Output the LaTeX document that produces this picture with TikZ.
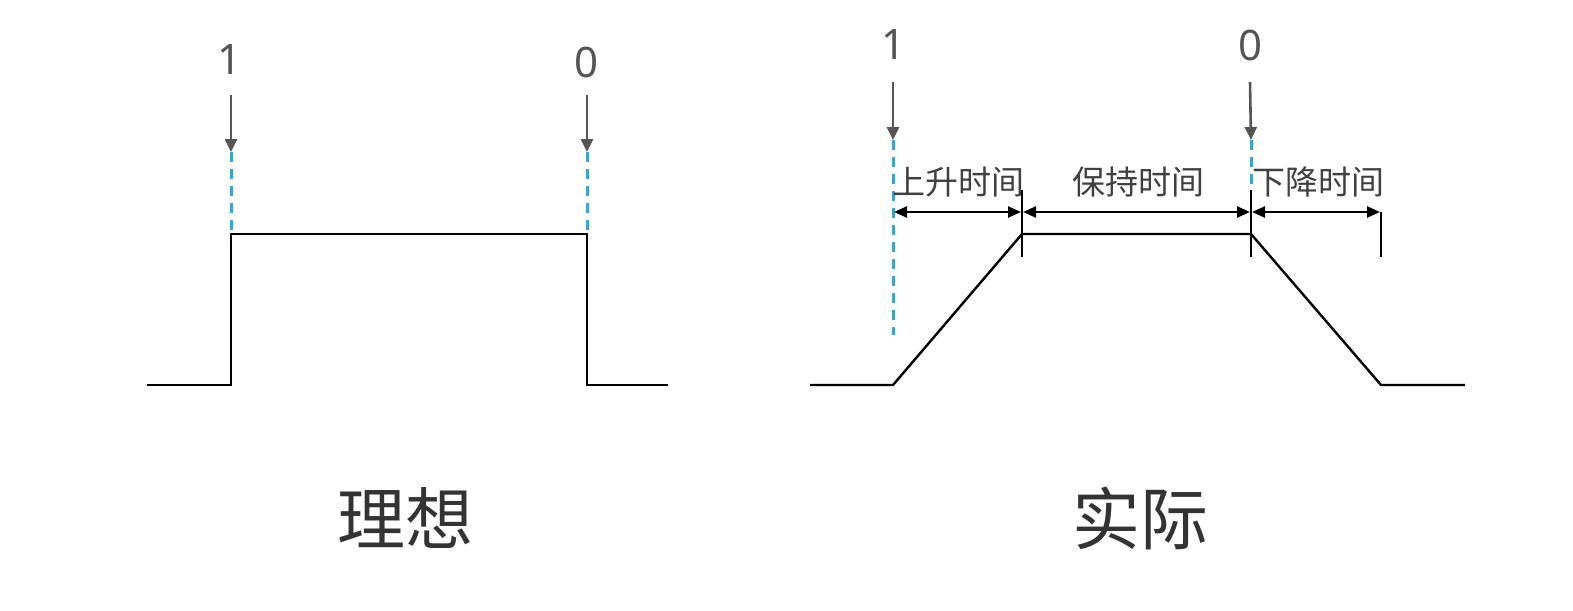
\documentclass[tikz,border=0pt]{standalone}
\usepackage{fontspec}
\setmainfont{Noto Sans}
\newfontfamily\cjk{Noto Sans CJK SC}
\usetikzlibrary{arrows.meta}
\definecolor{cblue}{HTML}{3BA3D8}
\definecolor{cgray}{HTML}{555555}
\tikzset{
 sig/.style={line width=2.4pt,black},
 blued/.style={cblue,line width=3pt,dash pattern=on 10pt off 7pt},
 gar/.style={cgray,line width=2.6pt,-{Triangle[length=13pt,width=12pt]}},
 dim/.style={black,line width=2.4pt,{Triangle[length=13pt,width=11pt]}-{Triangle[length=13pt,width=11pt]}},
 tick/.style={black,line width=2.4pt},
 lbl/.style={font=\fontsize{42}{42}\selectfont,text=cgray},
 small/.style={font=\cjk\fontsize{33}{33}\selectfont,text=black!75},
 big/.style={font=\cjk\fontsize{68}{68}\selectfont,text=black!80}
}
\begin{document}
\begin{tikzpicture}[x=1pt,y=-1pt]
\useasboundingbox (0,0) rectangle (1573,610);
% left ideal
\coordinate (a0) at (147,385); \coordinate (a1) at (231,385); \coordinate (a2) at (231,234);
\coordinate (a3) at (587,234); \coordinate (a4) at (587,385); \coordinate (a5) at (668,385);
\draw[sig] (a0)--(a1)--(a2)--(a3)--(a4)--(a5);
\coordinate (b1t) at (231,152); \coordinate (b2t) at (587,152);
\draw[blued] (b1t)--(a2); \draw[blued] (b2t)--(a3);
\node[lbl] (l1) at (230,60) {1};
\node[lbl] (l0) at (587,62) {0};
\draw[gar] (231,95)--(b1t);
\draw[gar] (587,95)--(b2t);
\node[big] (ideal) at (405,518) {理想};
% right actual
\coordinate (c0) at (810,385); \coordinate (c1) at (893,385); \coordinate (c2) at (1022,234);
\coordinate (c3) at (1251,234); \coordinate (c4) at (1381,385); \coordinate (c5) at (1465,385);
\draw[sig] (c0)--(c1)--(c2)--(c3)--(c4)--(c5);
\coordinate (d1t) at (893,140); \coordinate (d1b) at (893,335);
\coordinate (d2t) at (1251,140); \coordinate (d2b) at (1251,185);
\draw[blued] (d1t)--(d1b); \draw[blued] (d2t)--(d2b);
\node[lbl] (r1) at (893,45) {1};
\node[lbl] (r0) at (1250,45) {0};
\draw[gar] (893,82)--(d1t);
\draw[gar] (1250,82)--(d2t);
\coordinate (t1a) at (1022,190); \coordinate (t1b) at (1022,257);
\coordinate (t2a) at (1251,190); \coordinate (t2b) at (1251,257);
\coordinate (t3a) at (1381,212); \coordinate (t3b) at (1381,257);
\draw[tick] (t1a)--(t1b); \draw[tick] (t2a)--(t2b); \draw[tick] (t3a)--(t3b);
\draw[dim] (894,212)--(1021,212);
\draw[dim] (1023,212)--(1250,212);
\draw[dim] (1252,212)--(1380,212);
\node[small] (s1) at (958,182) {上升时间};
\node[small] (s2) at (1138,182) {保持时间};
\node[small] (s3) at (1318,182) {下降时间};
\node[big] (real) at (1140,518) {实际};
\end{tikzpicture}
\end{document}
